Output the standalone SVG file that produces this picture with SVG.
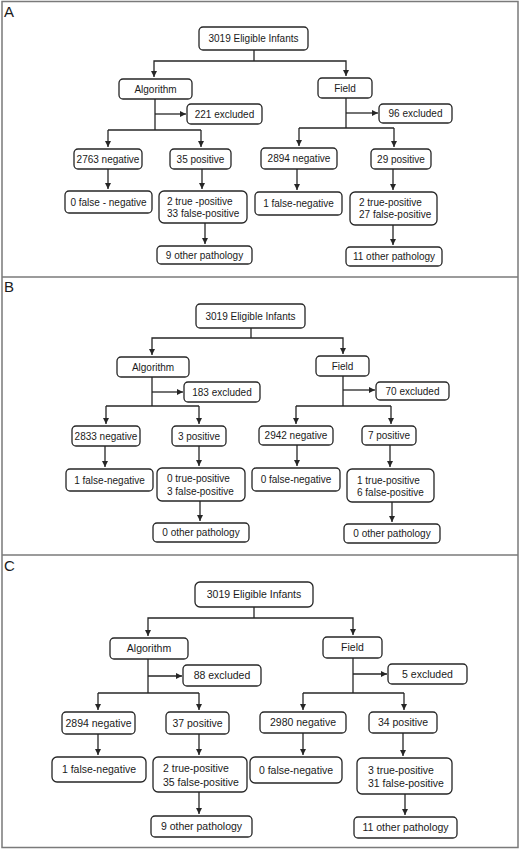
<svg xmlns="http://www.w3.org/2000/svg" width="520" height="851" viewBox="0 0 520 851">
<style>
.bg{fill:#fff}
.frame{fill:none;stroke:#7a7a7a;stroke-width:1.5}
.box{fill:#fff;stroke:#262626;stroke-width:1.3}
.c{fill:none;stroke:#262626;stroke-width:1.3}
.a{marker-end:url(#ah)}
text{font-family:"Liberation Sans",Arial,sans-serif;font-size:10px;fill:#1a1a1a}
.m{text-anchor:middle}
.big{font-size:10.5px}
.lab{font-size:15px}
</style>
<defs>
<marker id="ah" markerUnits="userSpaceOnUse" markerWidth="7" markerHeight="7" refX="6" refY="3" orient="auto">
<path d="M0,0 L6,3 L0,6 z" fill="#262626"/>
</marker>
</defs>
<rect class="bg" x="0" y="0" width="520" height="851"/>
<g id="frame">
<rect class="frame" x="2" y="1.5" width="516" height="846"/>
<line class="frame" x1="2" y1="277" x2="518" y2="277"/>
<line class="frame" x1="2" y1="555" x2="518" y2="555"/>
<text class="lab" x="4" y="17">A</text>
<text class="lab" x="4" y="292">B</text>
<text class="lab" x="4" y="571">C</text>
</g>

<g id="connectors">
<!-- Panel A -->
<path class="c" d="M254 50 V61"/>
<path class="c a" d="M254 61 H154 V77"/>
<path class="c a" d="M254 61 H346 V76"/>
<path class="c" d="M155 99 V130"/>
<path class="c a" d="M155 114 H186"/>
<path class="c" d="M108 130 H201"/>
<path class="c a" d="M108 130 V147"/>
<path class="c a" d="M201 130 V147"/>
<path class="c" d="M346 98 V128"/>
<path class="c a" d="M346 113 H378"/>
<path class="c" d="M299 128 H394"/>
<path class="c a" d="M299 128 V146"/>
<path class="c a" d="M394 128 V147"/>
<path class="c a" d="M108 169 V189"/>
<path class="c a" d="M202 169 V189"/>
<path class="c a" d="M205 223 V244"/>
<path class="c a" d="M297 169 V190"/>
<path class="c a" d="M393 169 V190"/>
<path class="c a" d="M393 225 V245"/>
<!-- Panel B -->
<path class="c" d="M251 328 V338"/>
<path class="c a" d="M251 338 H152 V355"/>
<path class="c a" d="M251 338 H343 V354"/>
<path class="c" d="M152 377 V406"/>
<path class="c a" d="M152 392 H183"/>
<path class="c" d="M106 406 H199"/>
<path class="c a" d="M106 406 V424"/>
<path class="c a" d="M199 406 V424"/>
<path class="c" d="M343 376 V406"/>
<path class="c a" d="M343 390 H375"/>
<path class="c" d="M296 406 H391"/>
<path class="c a" d="M296 406 V424"/>
<path class="c a" d="M391 406 V424"/>
<path class="c a" d="M105 446 V467"/>
<path class="c a" d="M199 446 V466"/>
<path class="c a" d="M200 501 V521"/>
<path class="c a" d="M297 445 V466"/>
<path class="c a" d="M390 445 V467"/>
<path class="c a" d="M392 502 V522"/>
<!-- Panel C -->
<path class="c" d="M254 607 V618"/>
<path class="c a" d="M254 618 H148 V636"/>
<path class="c a" d="M254 618 H353 V635"/>
<path class="c" d="M148 659 V693"/>
<path class="c a" d="M148 676 H182"/>
<path class="c" d="M98 693 H199"/>
<path class="c a" d="M98 693 V710"/>
<path class="c a" d="M199 693 V710"/>
<path class="c" d="M353 658 V693"/>
<path class="c a" d="M353 674 H387"/>
<path class="c" d="M303 693 H404"/>
<path class="c a" d="M303 693 V710"/>
<path class="c a" d="M404 693 V710"/>
<path class="c a" d="M98 734 V755"/>
<path class="c a" d="M199 734 V755"/>
<path class="c a" d="M199 792 V814"/>
<path class="c a" d="M303 733 V755"/>
<path class="c a" d="M403 733 V756"/>
<path class="c a" d="M405 794 V815"/>
</g>

<!-- Panel A nodes -->
<g id="A-root"><rect class="box" x="199" y="27" width="109" height="23" rx="4"/><text class="m" x="253.5" y="42">3019 Eligible Infants</text></g>
<g id="A-alg"><rect class="box" x="119" y="79" width="73" height="20" rx="4"/><text class="m" x="155.5" y="92.5">Algorithm</text></g>
<g id="A-field"><rect class="box" x="318" y="78" width="54" height="20" rx="4"/><text class="m" x="345" y="91.5">Field</text></g>
<g id="A-alg-exc"><rect class="box" x="187" y="104" width="75" height="20" rx="4"/><text class="m" x="224.5" y="117.5">221 excluded</text></g>
<g id="A-field-exc"><rect class="box" x="379" y="104" width="73" height="19" rx="4"/><text class="m" x="415.5" y="117">96 excluded</text></g>
<g id="A-alg-neg"><rect class="box" x="74" y="149" width="68" height="20" rx="4"/><text class="m" x="108" y="162.5">2763 negative</text></g>
<g id="A-alg-pos"><rect class="box" x="170" y="149" width="61" height="20" rx="4"/><text class="m" x="200.5" y="162.5">35 positive</text></g>
<g id="A-alg-fn"><rect class="box" x="65" y="191" width="87" height="22" rx="4"/><text class="m" x="108.5" y="205.5">0 false - negative</text></g>
<g id="A-alg-tp"><rect class="box" x="159" y="191" width="88" height="32" rx="5"/><text x="167" y="205">2 true -positive</text><text x="167" y="217">33 false-positive</text></g>
<g id="A-alg-other"><rect class="box" x="157" y="246" width="95" height="18" rx="4"/><text class="m" x="204.5" y="258.5">9 other  pathology</text></g>
<g id="A-field-neg"><rect class="box" x="261" y="148" width="76" height="21" rx="4"/><text class="m" x="299" y="162">2894 negative</text></g>
<g id="A-field-pos"><rect class="box" x="371" y="149" width="60" height="20" rx="4"/><text class="m" x="401" y="162.5">29 positive</text></g>
<g id="A-field-fn"><rect class="box" x="255" y="192" width="87" height="23" rx="4"/><text class="m" x="298.5" y="207">1 false-negative</text></g>
<g id="A-field-tp"><rect class="box" x="350" y="192" width="87" height="33" rx="5"/><text x="359" y="206">2 true-positive</text><text x="359" y="218">27 false-positive</text></g>
<g id="A-field-other"><rect class="box" x="346" y="247" width="96" height="19" rx="4"/><text class="m" x="394" y="260">11 other  pathology</text></g>

<!-- Panel B nodes -->
<g id="B-root"><rect class="box" x="196" y="304" width="109" height="24" rx="4"/><text class="m" x="250.5" y="319.5">3019 Eligible Infants</text></g>
<g id="B-alg"><rect class="box" x="117" y="357" width="72" height="20" rx="4"/><text class="m" x="153" y="370.5">Algorithm</text></g>
<g id="B-field"><rect class="box" x="316" y="356" width="53" height="20" rx="4"/><text class="m" x="342.5" y="369.5">Field</text></g>
<g id="B-alg-exc"><rect class="box" x="184" y="382" width="76" height="20" rx="4"/><text class="m" x="222" y="395.5">183 excluded</text></g>
<g id="B-field-exc"><rect class="box" x="376" y="382" width="73" height="18" rx="4"/><text class="m" x="412.5" y="394.5">70 excluded</text></g>
<g id="B-alg-neg"><rect class="box" x="72" y="426" width="68" height="20" rx="4"/><text class="m" x="106" y="439.5">2833 negative</text></g>
<g id="B-alg-pos"><rect class="box" x="172" y="426" width="54" height="20" rx="4"/><text class="m" x="199" y="439.5">3 positive</text></g>
<g id="B-alg-fn"><rect class="box" x="66" y="469" width="87" height="22" rx="4"/><text class="m" x="109.5" y="483.5">1 false-negative</text></g>
<g id="B-alg-tp"><rect class="box" x="157" y="468" width="88" height="33" rx="5"/><text x="167" y="482">0 true-positive</text><text x="167" y="495">3 false-positive</text></g>
<g id="B-alg-other"><rect class="box" x="153" y="523" width="96" height="19" rx="4"/><text class="m" x="201" y="536">0 other  pathology</text></g>
<g id="B-field-neg"><rect class="box" x="259" y="426" width="74" height="19" rx="4"/><text class="m" x="296" y="439">2942 negative</text></g>
<g id="B-field-pos"><rect class="box" x="362" y="426" width="54" height="19" rx="4"/><text class="m" x="389" y="439">7 positive</text></g>
<g id="B-field-fn"><rect class="box" x="252" y="468" width="88" height="23" rx="4"/><text class="m" x="296" y="483">0 false-negative</text></g>
<g id="B-field-tp"><rect class="box" x="347" y="469" width="87" height="33" rx="5"/><text x="357" y="484">1 true-positive</text><text x="357" y="496">6 false-positive</text></g>
<g id="B-field-other"><rect class="box" x="344" y="524" width="96" height="19" rx="4"/><text class="m" x="392" y="537">0 other  pathology</text></g>

<!-- Panel C nodes -->
<g id="C-root"><rect class="box" x="195" y="582" width="118" height="25" rx="5"/><text class="m big" x="254" y="598.2">3019 Eligible Infants</text></g>
<g id="C-alg"><rect class="box" x="110" y="638" width="78" height="21" rx="4"/><text class="m big" x="149" y="652.2">Algorithm</text></g>
<g id="C-field"><rect class="box" x="323" y="637" width="59" height="21" rx="4"/><text class="m big" x="352.5" y="651.2">Field</text></g>
<g id="C-alg-exc"><rect class="box" x="183" y="665" width="78" height="21" rx="4"/><text class="m big" x="222" y="679.2">88 excluded</text></g>
<g id="C-field-exc"><rect class="box" x="388" y="664" width="79" height="20" rx="4"/><text class="m big" x="427.5" y="677.7">5 excluded</text></g>
<g id="C-alg-neg"><rect class="box" x="62" y="712" width="73" height="22" rx="4"/><text class="m big" x="98.5" y="726.7">2894 negative</text></g>
<g id="C-alg-pos"><rect class="box" x="166" y="712" width="63" height="22" rx="4"/><text class="m big" x="197.5" y="726.7">37 positive</text></g>
<g id="C-alg-fn"><rect class="box" x="52" y="757" width="94" height="25" rx="5"/><text class="m big" x="99" y="773.2">1 false-negative</text></g>
<g id="C-alg-tp"><rect class="box" x="153" y="757" width="94" height="35" rx="5"/><text class="big" x="163" y="772">2 true-positive</text><text class="big" x="163" y="786">35 false-positive</text></g>
<g id="C-alg-other"><rect class="box" x="151" y="816" width="101" height="21" rx="4"/><text class="m big" x="201.5" y="830.2">9 other  pathology</text></g>
<g id="C-field-neg"><rect class="box" x="260" y="712" width="86" height="21" rx="4"/><text class="m big" x="303" y="726.2">2980 negative</text></g>
<g id="C-field-pos"><rect class="box" x="369" y="712" width="68" height="21" rx="4"/><text class="m big" x="403" y="726.2">34 positive</text></g>
<g id="C-field-fn"><rect class="box" x="250" y="757" width="92" height="26" rx="5"/><text class="m big" x="296" y="773.7">0 false-negative</text></g>
<g id="C-field-tp"><rect class="box" x="357" y="758" width="95" height="36" rx="5"/><text class="big" x="368" y="774">3 true-positive</text><text class="big" x="368" y="787">31 false-positive</text></g>
<g id="C-field-other"><rect class="box" x="354" y="817" width="103" height="21" rx="4"/><text class="m big" x="405.5" y="831.2">11 other  pathology</text></g>
</svg>
